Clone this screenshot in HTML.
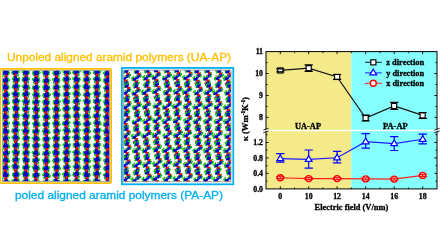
<!DOCTYPE html>
<html lang="en"><head><meta charset="utf-8"><title>Aramid polymers thermal conductivity</title>
<style>html,body{margin:0;padding:0;background:#fff}body{width:448px;height:252px;overflow:hidden}svg{display:block;filter:blur(0.3px)}</style>
</head><body>
<svg width="448" height="252" viewBox="0 0 448 252">
<defs><filter id="bl" x="-5%" y="-5%" width="110%" height="110%"><feGaussianBlur stdDeviation="0.35"/></filter></defs>
<rect width="448" height="252" fill="#fff"/>
<text x="7" y="60.7" font-family="'Liberation Sans', sans-serif" font-size="11" fill="#ffc000" stroke="#ffc000" stroke-width="0.3" textLength="224" lengthAdjust="spacingAndGlyphs">Unpoled aligned aramid polymers (UA-AP)</text>
<text x="15" y="199.1" font-family="'Liberation Sans', sans-serif" font-size="11" fill="#00b0f0" stroke="#00b0f0" stroke-width="0.3" textLength="208" lengthAdjust="spacingAndGlyphs">poled aligned aramid polymers (PA-AP)</text>
<defs><g id="L0"><g fill="#00b000"><circle cx="-2.9" cy="-0.7" r="1.4"/><circle cx="-2.4" cy="-1.8" r="1.1"/><circle cx="-2.4" cy="1.8" r="0.9"/><circle cx="2.5" cy="0.3" r="1.4"/><circle cx="2.5" cy="-1.3" r="1.1"/><circle cx="2.2" cy="1.7" r="0.9"/><circle cx="-1.6" cy="3.1" r="0.9"/><circle cx="1.9" cy="4.2" r="0.8"/></g><g fill="#1ee61e"><circle cx="-3.4" cy="-0.3" r="0.8"/><circle cx="-3" cy="-1.7" r="0.6"/><circle cx="3.2" cy="0.6" r="0.8"/><circle cx="2.7" cy="-1.8" r="0.6"/><circle cx="-2.2" cy="3.1" r="0.5"/></g><g fill="#0909dc"><circle cx="-0.1" cy="0.2" r="2.1"/><circle cx="-1.5" cy="0.4" r="1.5"/><circle cx="1.4" cy="-0.5" r="1.5"/><circle cx="0.5" cy="1.5" r="1.5"/><circle cx="-0.8" cy="-1.9" r="1.5"/><circle cx="0.3" cy="3.7" r="1.4"/></g><g fill="#000090"><circle cx="0.8" cy="1" r="0.9"/><circle cx="-1.3" cy="-0.7" r="0.8"/><circle cx="0.5" cy="-1.8" r="0.6"/><circle cx="-0.5" cy="3.9" r="0.6"/></g><g fill="#ff0000"><circle cx="0.4" cy="2.9" r="1.2"/><circle cx="-0.2" cy="4.7" r="1.3"/></g><g fill="#c000c0"><circle cx="-0.7" cy="2" r="0.5"/><circle cx="0.9" cy="5.5" r="0.5"/></g></g><g id="L1"><g fill="#00b000"><circle cx="-3" cy="0.5" r="1.4"/><circle cx="-2.8" cy="-1.4" r="1.1"/><circle cx="-2.2" cy="1.9" r="0.9"/><circle cx="2.8" cy="-0.5" r="1.4"/><circle cx="2.7" cy="-1.2" r="1.1"/><circle cx="2.4" cy="2" r="0.9"/><circle cx="2.1" cy="3.3" r="0.9"/><circle cx="-1.8" cy="4.4" r="0.8"/></g><g fill="#1ee61e"><circle cx="-2.9" cy="0.2" r="0.8"/><circle cx="-2.6" cy="-1.6" r="0.6"/><circle cx="2.8" cy="-0.2" r="0.8"/><circle cx="2.8" cy="-1.4" r="0.6"/><circle cx="1.7" cy="3.3" r="0.5"/></g><g fill="#0909dc"><circle cx="-0.2" cy="-0.2" r="2.1"/><circle cx="-1.6" cy="-0.2" r="1.5"/><circle cx="1.1" cy="0.2" r="1.5"/><circle cx="-0.6" cy="2" r="1.5"/><circle cx="0.2" cy="-1.7" r="1.5"/><circle cx="-0.2" cy="3.9" r="1.4"/></g><g fill="#000090"><circle cx="-0.7" cy="1.1" r="0.9"/><circle cx="1.2" cy="-0.7" r="0.8"/><circle cx="-0.4" cy="-1.7" r="0.6"/><circle cx="0.6" cy="3.7" r="0.6"/></g><g fill="#ff0000"><circle cx="-0.5" cy="2.5" r="1.2"/><circle cx="0.1" cy="4.8" r="1.3"/></g><g fill="#c000c0"><circle cx="1.1" cy="2.1" r="0.5"/><circle cx="-1.2" cy="5.3" r="0.5"/></g></g><g id="L2"><g fill="#00b000"><circle cx="-2.9" cy="-0.5" r="1.4"/><circle cx="-2.2" cy="-1.4" r="1.1"/><circle cx="-2.4" cy="2" r="0.9"/><circle cx="3" cy="0.7" r="1.4"/><circle cx="2.4" cy="-1.6" r="1.1"/><circle cx="2.2" cy="2" r="0.9"/><circle cx="-2" cy="3.1" r="0.9"/><circle cx="1.4" cy="4.1" r="0.8"/></g><g fill="#1ee61e"><circle cx="-3" cy="-0.6" r="0.8"/><circle cx="-2.5" cy="-1.5" r="0.6"/><circle cx="2.8" cy="0" r="0.8"/><circle cx="2.5" cy="-1.9" r="0.6"/><circle cx="-2.2" cy="3.2" r="0.5"/></g><g fill="#0909dc"><circle cx="-0.3" cy="0.2" r="2.1"/><circle cx="-1.3" cy="0.2" r="1.5"/><circle cx="1.2" cy="-0.5" r="1.5"/><circle cx="0.4" cy="1.6" r="1.5"/><circle cx="-0.3" cy="-1.4" r="1.5"/><circle cx="0.2" cy="3.7" r="1.4"/></g><g fill="#000090"><circle cx="0.7" cy="0.7" r="0.9"/><circle cx="-1.4" cy="-0.7" r="0.8"/><circle cx="0.5" cy="-2.1" r="0.6"/><circle cx="-0.6" cy="4.2" r="0.6"/></g><g fill="#ff0000"><circle cx="0.4" cy="2.5" r="1.2"/><circle cx="-0.3" cy="4.5" r="1.3"/></g><g fill="#c000c0"><circle cx="-1" cy="2.5" r="0.5"/><circle cx="1.1" cy="5.4" r="0.5"/></g></g><g id="L3"><g fill="#00b000"><circle cx="-2.9" cy="0.4" r="1.4"/><circle cx="-2.7" cy="-1.3" r="1.1"/><circle cx="-2.4" cy="2.1" r="0.9"/><circle cx="3" cy="-0.3" r="1.4"/><circle cx="2.7" cy="-1.4" r="1.1"/><circle cx="2.2" cy="1.9" r="0.9"/><circle cx="1.8" cy="3.5" r="0.9"/><circle cx="-1.4" cy="4.3" r="0.8"/></g><g fill="#1ee61e"><circle cx="-3.2" cy="0.1" r="0.8"/><circle cx="-2.5" cy="-1.4" r="0.6"/><circle cx="3" cy="-0.6" r="0.8"/><circle cx="2.4" cy="-1.8" r="0.6"/><circle cx="2.3" cy="3.6" r="0.5"/></g><g fill="#0909dc"><circle cx="0.3" cy="-0.1" r="2.1"/><circle cx="-1.5" cy="-0.6" r="1.5"/><circle cx="1.2" cy="0.2" r="1.5"/><circle cx="-0.4" cy="2" r="1.5"/><circle cx="0.7" cy="-1.7" r="1.5"/><circle cx="-0.1" cy="3.9" r="1.4"/></g><g fill="#000090"><circle cx="-1.1" cy="1" r="0.9"/><circle cx="1.5" cy="-0.4" r="0.8"/><circle cx="-0.1" cy="-1.9" r="0.6"/><circle cx="0.1" cy="4.1" r="0.6"/></g><g fill="#ff0000"><circle cx="-0.5" cy="2.9" r="1.2"/><circle cx="0.6" cy="4.7" r="1.3"/></g><g fill="#c000c0"><circle cx="0.9" cy="2.5" r="0.5"/><circle cx="-0.8" cy="5.1" r="0.5"/></g></g><g id="L4"><g fill="#00b000"><circle cx="-3" cy="-0.7" r="1.4"/><circle cx="-2.3" cy="-1.3" r="1.1"/><circle cx="-2.6" cy="2.1" r="0.9"/><circle cx="2.6" cy="0.2" r="1.4"/><circle cx="2.8" cy="-1.4" r="1.1"/><circle cx="2.4" cy="2.2" r="0.9"/><circle cx="-2" cy="3.3" r="0.9"/><circle cx="1.5" cy="4.4" r="0.8"/></g><g fill="#1ee61e"><circle cx="-2.8" cy="-0.2" r="0.8"/><circle cx="-2.8" cy="-1.7" r="0.6"/><circle cx="3.1" cy="0.5" r="0.8"/><circle cx="2.9" cy="-1.9" r="0.6"/><circle cx="-2.1" cy="3.3" r="0.5"/></g><g fill="#0909dc"><circle cx="-0.2" cy="0.2" r="2.1"/><circle cx="-1.4" cy="0.4" r="1.5"/><circle cx="1.4" cy="-0.2" r="1.5"/><circle cx="0.5" cy="2.1" r="1.5"/><circle cx="-0.5" cy="-1.7" r="1.5"/><circle cx="0.2" cy="3.4" r="1.4"/></g><g fill="#000090"><circle cx="0.9" cy="0.7" r="0.9"/><circle cx="-1.6" cy="-0.4" r="0.8"/><circle cx="0.1" cy="-1.9" r="0.6"/><circle cx="-0.2" cy="3.9" r="0.6"/></g><g fill="#ff0000"><circle cx="0.2" cy="2.7" r="1.2"/><circle cx="-0.3" cy="5" r="1.3"/></g><g fill="#c000c0"><circle cx="-1.2" cy="2.2" r="0.5"/><circle cx="0.7" cy="5.2" r="0.5"/></g></g><g id="L5"><g fill="#00b000"><circle cx="-2.6" cy="0.5" r="1.4"/><circle cx="-2.5" cy="-1.3" r="1.1"/><circle cx="-2.2" cy="1.9" r="0.9"/><circle cx="2.8" cy="-0.5" r="1.4"/><circle cx="2.5" cy="-1.2" r="1.1"/><circle cx="2.5" cy="2.1" r="0.9"/><circle cx="2.1" cy="3.2" r="0.9"/><circle cx="-1.9" cy="4.3" r="0.8"/></g><g fill="#1ee61e"><circle cx="-3" cy="0.3" r="0.8"/><circle cx="-2.7" cy="-1.6" r="0.6"/><circle cx="3.4" cy="-0.4" r="0.8"/><circle cx="2.7" cy="-1.4" r="0.6"/><circle cx="1.7" cy="3.1" r="0.5"/></g><g fill="#0909dc"><circle cx="-0.3" cy="0.1" r="2.1"/><circle cx="-1.2" cy="-0.2" r="1.5"/><circle cx="1.1" cy="0.5" r="1.5"/><circle cx="-0.4" cy="1.6" r="1.5"/><circle cx="0.7" cy="-1.4" r="1.5"/><circle cx="-0.4" cy="4" r="1.4"/></g><g fill="#000090"><circle cx="-1" cy="0.9" r="0.9"/><circle cx="1.6" cy="-0.4" r="0.8"/><circle cx="-0.5" cy="-1.9" r="0.6"/><circle cx="0.3" cy="3.8" r="0.6"/></g><g fill="#ff0000"><circle cx="-0.5" cy="2.6" r="1.2"/><circle cx="0.4" cy="4.5" r="1.3"/></g><g fill="#c000c0"><circle cx="1" cy="2.2" r="0.5"/><circle cx="-1.2" cy="5.2" r="0.5"/></g></g><g id="R0"><g fill="#00b000"><circle cx="-3" cy="0.5" r="1.3"/><circle cx="-2.6" cy="2.4" r="1.1"/><circle cx="-2" cy="-1.1" r="0.8"/><circle cx="0.7" cy="-1.1" r="0.9"/><circle cx="3" cy="4.8" r="1.2"/><circle cx="2.5" cy="6.3" r="1"/><circle cx="2.5" cy="2.4" r="0.8"/><circle cx="-0.6" cy="4.3" r="0.9"/></g><g fill="#1ee61e"><circle cx="-3.2" cy="0.3" r="0.7"/><circle cx="-2.8" cy="2.1" r="0.6"/><circle cx="-2.2" cy="-1.4" r="0.4"/><circle cx="0.5" cy="-1.4" r="0.5"/><circle cx="2.8" cy="4.5" r="0.7"/><circle cx="2.3" cy="6.1" r="0.5"/><circle cx="2.3" cy="2.2" r="0.4"/><circle cx="-0.8" cy="4.1" r="0.5"/></g><g fill="#0909dc"><circle cx="-0.7" cy="1" r="1.5"/><circle cx="-1.7" cy="1.7" r="1.1"/><circle cx="0.4" cy="0.4" r="1.1"/><circle cx="-0.2" cy="2.2" r="1.1"/><circle cx="1.3" cy="4.2" r="1.2"/><circle cx="1" cy="5.6" r="1.3"/><circle cx="0.2" cy="6.2" r="1.3"/><circle cx="-0.9" cy="6.7" r="1.2"/></g><g fill="#000090"><circle cx="-0.2" cy="1.7" r="0.8"/><circle cx="-2" cy="0.6" r="0.6"/></g><g fill="#ff0000"><ellipse cx="0.8" cy="3.4" rx="1.6" ry="1.1"/><circle cx="-1.6" cy="5.7" r="0.7"/></g><g fill="#c000c0"><circle cx="0.2" cy="4" r="0.5"/><circle cx="-1.5" cy="7.2" r="0.5"/></g></g><g id="R1"><g fill="#00b000"><circle cx="-3.2" cy="0.4" r="1.3"/><circle cx="-2.8" cy="2.4" r="1.1"/><circle cx="-2.2" cy="-1.2" r="0.8"/><circle cx="0.5" cy="-1.1" r="0.9"/><circle cx="3" cy="4.7" r="1.2"/><circle cx="2.2" cy="6.4" r="1"/><circle cx="2.4" cy="2.5" r="0.8"/><circle cx="-0.3" cy="4.7" r="0.9"/></g><g fill="#1ee61e"><circle cx="-3.4" cy="0.2" r="0.7"/><circle cx="-3" cy="2.1" r="0.6"/><circle cx="-2.4" cy="-1.5" r="0.4"/><circle cx="0.3" cy="-1.4" r="0.5"/><circle cx="2.8" cy="4.4" r="0.7"/><circle cx="2" cy="6.2" r="0.5"/><circle cx="2.2" cy="2.3" r="0.4"/><circle cx="-0.5" cy="4.4" r="0.5"/></g><g fill="#0909dc"><circle cx="-0.5" cy="0.9" r="1.5"/><circle cx="-1.5" cy="1.6" r="1.1"/><circle cx="0.7" cy="0.4" r="1.1"/><circle cx="-0" cy="2" r="1.1"/><circle cx="1.3" cy="4.3" r="1.2"/><circle cx="0.6" cy="5.3" r="1.3"/><circle cx="0.3" cy="6.3" r="1.3"/><circle cx="-1" cy="6.8" r="1.2"/></g><g fill="#000090"><circle cx="0.2" cy="1.4" r="0.8"/><circle cx="-1.3" cy="0.6" r="0.6"/></g><g fill="#ff0000"><ellipse cx="0.7" cy="3.3" rx="1.6" ry="1.1"/><circle cx="-1.8" cy="5.7" r="0.7"/></g><g fill="#c000c0"><circle cx="0.6" cy="4" r="0.5"/><circle cx="-1.2" cy="7.2" r="0.5"/></g></g><g id="R2"><g fill="#00b000"><circle cx="-2.8" cy="0.4" r="1.3"/><circle cx="-2.6" cy="2.1" r="1.1"/><circle cx="-2.3" cy="-0.9" r="0.8"/><circle cx="0.5" cy="-0.9" r="0.9"/><circle cx="2.6" cy="4.7" r="1.2"/><circle cx="2.4" cy="6.1" r="1"/><circle cx="2.4" cy="2.7" r="0.8"/><circle cx="-0.8" cy="4.4" r="0.9"/></g><g fill="#1ee61e"><circle cx="-3" cy="0.1" r="0.7"/><circle cx="-2.8" cy="1.8" r="0.6"/><circle cx="-2.5" cy="-1.2" r="0.4"/><circle cx="0.3" cy="-1.1" r="0.5"/><circle cx="2.4" cy="4.4" r="0.7"/><circle cx="2.2" cy="5.8" r="0.5"/><circle cx="2.2" cy="2.5" r="0.4"/><circle cx="-1" cy="4.2" r="0.5"/></g><g fill="#0909dc"><circle cx="-0.9" cy="1.3" r="1.5"/><circle cx="-2.2" cy="1.9" r="1.1"/><circle cx="0.3" cy="0.5" r="1.1"/><circle cx="-0.3" cy="2.3" r="1.1"/><circle cx="1.4" cy="4.4" r="1.2"/><circle cx="0.8" cy="5.5" r="1.3"/><circle cx="-0" cy="6.1" r="1.3"/><circle cx="-0.6" cy="7" r="1.2"/></g><g fill="#000090"><circle cx="-0.7" cy="1.8" r="0.8"/><circle cx="-2.1" cy="1.1" r="0.6"/></g><g fill="#ff0000"><ellipse cx="0.9" cy="3.2" rx="1.6" ry="1.1"/><circle cx="-1.8" cy="5.8" r="0.7"/></g><g fill="#c000c0"><circle cx="0.5" cy="4.5" r="0.5"/><circle cx="-1.4" cy="7.5" r="0.5"/></g></g><g id="R3"><g fill="#00b000"><circle cx="-3" cy="0.4" r="1.3"/><circle cx="-2.7" cy="2.6" r="1.1"/><circle cx="-2.3" cy="-1.2" r="0.8"/><circle cx="0.8" cy="-0.8" r="0.9"/><circle cx="2.8" cy="4.6" r="1.2"/><circle cx="2.5" cy="6.4" r="1"/><circle cx="2.5" cy="2.7" r="0.8"/><circle cx="-0.3" cy="4.8" r="0.9"/></g><g fill="#1ee61e"><circle cx="-3.2" cy="0.2" r="0.7"/><circle cx="-2.9" cy="2.3" r="0.6"/><circle cx="-2.5" cy="-1.4" r="0.4"/><circle cx="0.6" cy="-1" r="0.5"/><circle cx="2.6" cy="4.4" r="0.7"/><circle cx="2.3" cy="6.2" r="0.5"/><circle cx="2.3" cy="2.5" r="0.4"/><circle cx="-0.5" cy="4.6" r="0.5"/></g><g fill="#0909dc"><circle cx="-0.7" cy="1.2" r="1.5"/><circle cx="-1.7" cy="1.8" r="1.1"/><circle cx="0.6" cy="0.4" r="1.1"/><circle cx="-0.2" cy="2.3" r="1.1"/><circle cx="1.1" cy="4.6" r="1.2"/><circle cx="1" cy="5.5" r="1.3"/><circle cx="0.2" cy="6.2" r="1.3"/><circle cx="-0.9" cy="6.7" r="1.2"/></g><g fill="#000090"><circle cx="-0.2" cy="1.4" r="0.8"/><circle cx="-1.9" cy="0.8" r="0.6"/></g><g fill="#ff0000"><ellipse cx="1" cy="3" rx="1.6" ry="1.1"/><circle cx="-1.9" cy="6.2" r="0.7"/></g><g fill="#c000c0"><circle cx="0.5" cy="4.5" r="0.5"/><circle cx="-1.5" cy="7.3" r="0.5"/></g></g><g id="R4"><g fill="#00b000"><circle cx="-3.1" cy="0" r="1.3"/><circle cx="-2.7" cy="2.4" r="1.1"/><circle cx="-2.2" cy="-1.4" r="0.8"/><circle cx="0.9" cy="-0.9" r="0.9"/><circle cx="2.7" cy="4.7" r="1.2"/><circle cx="2.2" cy="6.3" r="1"/><circle cx="2.4" cy="2.6" r="0.8"/><circle cx="-0.3" cy="4.8" r="0.9"/></g><g fill="#1ee61e"><circle cx="-3.3" cy="-0.2" r="0.7"/><circle cx="-2.9" cy="2.2" r="0.6"/><circle cx="-2.4" cy="-1.6" r="0.4"/><circle cx="0.7" cy="-1.2" r="0.5"/><circle cx="2.5" cy="4.5" r="0.7"/><circle cx="2" cy="6" r="0.5"/><circle cx="2.2" cy="2.3" r="0.4"/><circle cx="-0.5" cy="4.6" r="0.5"/></g><g fill="#0909dc"><circle cx="-0.7" cy="1.2" r="1.5"/><circle cx="-1.7" cy="1.9" r="1.1"/><circle cx="0.4" cy="0.4" r="1.1"/><circle cx="-0" cy="2.4" r="1.1"/><circle cx="1.3" cy="4.4" r="1.2"/><circle cx="0.8" cy="5.5" r="1.3"/><circle cx="-0.1" cy="6.3" r="1.3"/><circle cx="-1" cy="6.9" r="1.2"/></g><g fill="#000090"><circle cx="-0.5" cy="1.8" r="0.8"/><circle cx="-1.5" cy="1.1" r="0.6"/></g><g fill="#ff0000"><ellipse cx="1.1" cy="3.1" rx="1.6" ry="1.1"/><circle cx="-1.6" cy="5.8" r="0.7"/></g><g fill="#c000c0"><circle cx="0.5" cy="4.2" r="0.5"/><circle cx="-1.1" cy="7.5" r="0.5"/></g></g><g id="R5"><g fill="#00b000"><circle cx="-3.1" cy="0.5" r="1.3"/><circle cx="-2.9" cy="2.1" r="1.1"/><circle cx="-2" cy="-1.5" r="0.8"/><circle cx="0.9" cy="-1.2" r="0.9"/><circle cx="2.5" cy="4.2" r="1.2"/><circle cx="2.4" cy="6.2" r="1"/><circle cx="2.7" cy="2.7" r="0.8"/><circle cx="-0.3" cy="4.9" r="0.9"/></g><g fill="#1ee61e"><circle cx="-3.3" cy="0.2" r="0.7"/><circle cx="-3.1" cy="1.8" r="0.6"/><circle cx="-2.2" cy="-1.7" r="0.4"/><circle cx="0.7" cy="-1.4" r="0.5"/><circle cx="2.3" cy="4" r="0.7"/><circle cx="2.2" cy="5.9" r="0.5"/><circle cx="2.5" cy="2.4" r="0.4"/><circle cx="-0.5" cy="4.6" r="0.5"/></g><g fill="#0909dc"><circle cx="-0.5" cy="0.9" r="1.5"/><circle cx="-1.5" cy="1.6" r="1.1"/><circle cx="0.5" cy="0.2" r="1.1"/><circle cx="0.4" cy="2.3" r="1.1"/><circle cx="1.1" cy="4.4" r="1.2"/><circle cx="0.9" cy="5.4" r="1.3"/><circle cx="0" cy="6.3" r="1.3"/><circle cx="-0.6" cy="6.9" r="1.2"/></g><g fill="#000090"><circle cx="0.2" cy="1.7" r="0.8"/><circle cx="-1.6" cy="0.4" r="0.6"/></g><g fill="#ff0000"><ellipse cx="1" cy="3.1" rx="1.6" ry="1.1"/><circle cx="-1.9" cy="5.7" r="0.7"/></g><g fill="#c000c0"><circle cx="0.6" cy="3.9" r="0.5"/><circle cx="-1.1" cy="7.2" r="0.5"/></g></g></defs>
<clipPath id="cl"><rect x="2.6" y="70.3" width="107" height="111.3"/></clipPath><g clip-path="url(#cl)"><g filter="url(#bl)"><use href="#L5" x="5.9" y="65.5"/><use href="#L0" x="5.9" y="72.8"/><use href="#L3" x="5.6" y="80.5"/><use href="#L0" x="5.6" y="87.4"/><use href="#L3" x="5.9" y="95"/><use href="#L2" x="5.7" y="102.2"/><use href="#L5" x="5.7" y="109.6"/><use href="#L0" x="5.6" y="116.9"/><use href="#L1" x="5.7" y="123.9"/><use href="#L0" x="5.8" y="131.5"/><use href="#L1" x="5.8" y="138.6"/><use href="#L2" x="5.9" y="146"/><use href="#L3" x="5.9" y="153.3"/><use href="#L2" x="5.8" y="160.4"/><use href="#L5" x="5.6" y="167.7"/><use href="#L0" x="5.6" y="175"/><use href="#L3" x="5.8" y="182.5"/><use href="#L0" x="5.6" y="189.8"/><use href="#L2" x="16" y="65.2"/><use href="#L1" x="15.6" y="72.4"/><use href="#L4" x="16.1" y="79.6"/><use href="#L1" x="16.1" y="86.7"/><use href="#L4" x="15.8" y="94.2"/><use href="#L3" x="16.1" y="101.4"/><use href="#L0" x="16.1" y="108.7"/><use href="#L5" x="16" y="115.9"/><use href="#L2" x="16.1" y="123.6"/><use href="#L1" x="15.6" y="130.8"/><use href="#L2" x="15.8" y="137.8"/><use href="#L5" x="16" y="145.5"/><use href="#L4" x="16.1" y="152.6"/><use href="#L5" x="15.7" y="159.9"/><use href="#L0" x="15.7" y="166.9"/><use href="#L3" x="16.1" y="174.7"/><use href="#L4" x="15.8" y="181.6"/><use href="#L3" x="15.7" y="188.9"/><use href="#L1" x="26" y="65.2"/><use href="#L0" x="25.9" y="72.7"/><use href="#L1" x="25.9" y="79.6"/><use href="#L2" x="26" y="87.1"/><use href="#L3" x="25.9" y="94.3"/><use href="#L4" x="26.2" y="101.9"/><use href="#L1" x="26.1" y="109.1"/><use href="#L4" x="25.9" y="116.2"/><use href="#L3" x="25.8" y="123.7"/><use href="#L4" x="25.8" y="131.1"/><use href="#L5" x="26.2" y="138.3"/><use href="#L4" x="26.1" y="145.5"/><use href="#L5" x="26.1" y="152.9"/><use href="#L0" x="26.2" y="160.2"/><use href="#L5" x="26.1" y="167.5"/><use href="#L0" x="25.8" y="174.5"/><use href="#L5" x="25.9" y="181.8"/><use href="#L2" x="26" y="189.4"/><use href="#L4" x="36" y="65.6"/><use href="#L3" x="36.3" y="73.1"/><use href="#L4" x="36.3" y="80.1"/><use href="#L5" x="35.9" y="87.7"/><use href="#L2" x="36.3" y="95.1"/><use href="#L1" x="36.3" y="102.1"/><use href="#L4" x="36.2" y="109.5"/><use href="#L3" x="35.9" y="117"/><use href="#L2" x="36.3" y="124.2"/><use href="#L5" x="36" y="131.5"/><use href="#L2" x="36" y="138.8"/><use href="#L3" x="36.2" y="145.8"/><use href="#L2" x="35.9" y="153.2"/><use href="#L5" x="35.9" y="160.5"/><use href="#L2" x="36" y="167.9"/><use href="#L3" x="36.1" y="175.3"/><use href="#L4" x="36" y="182.7"/><use href="#L3" x="35.9" y="189.8"/><use href="#L3" x="46.5" y="66"/><use href="#L0" x="46.1" y="73.1"/><use href="#L5" x="46.3" y="80.8"/><use href="#L0" x="46.4" y="88"/><use href="#L3" x="46.5" y="95.3"/><use href="#L0" x="46.3" y="102.7"/><use href="#L3" x="46.1" y="109.6"/><use href="#L2" x="46.4" y="117.1"/><use href="#L5" x="46.1" y="124.3"/><use href="#L2" x="46.1" y="131.6"/><use href="#L3" x="46.4" y="139.2"/><use href="#L0" x="46.5" y="146.2"/><use href="#L1" x="46.5" y="153.5"/><use href="#L2" x="46.1" y="160.9"/><use href="#L5" x="46.1" y="168.4"/><use href="#L2" x="46.5" y="175.4"/><use href="#L1" x="46.5" y="182.7"/><use href="#L0" x="46.2" y="190"/><use href="#L0" x="56.6" y="65.7"/><use href="#L3" x="56.6" y="73"/><use href="#L4" x="56.4" y="80.3"/><use href="#L5" x="56.5" y="87.5"/><use href="#L0" x="56.7" y="94.7"/><use href="#L5" x="56.6" y="102.1"/><use href="#L2" x="56.4" y="109.5"/><use href="#L5" x="56.3" y="116.6"/><use href="#L2" x="56.3" y="123.8"/><use href="#L5" x="56.7" y="131.1"/><use href="#L4" x="56.3" y="138.5"/><use href="#L5" x="56.4" y="145.7"/><use href="#L0" x="56.2" y="153.1"/><use href="#L3" x="56.5" y="160.4"/><use href="#L2" x="56.7" y="167.7"/><use href="#L1" x="56.5" y="174.9"/><use href="#L0" x="56.4" y="182.1"/><use href="#L1" x="56.4" y="189.8"/><use href="#L1" x="66.7" y="65"/><use href="#L2" x="66.7" y="72.2"/><use href="#L3" x="66.5" y="79.4"/><use href="#L2" x="66.6" y="86.9"/><use href="#L5" x="66.6" y="94.3"/><use href="#L0" x="66.4" y="101.7"/><use href="#L3" x="66.5" y="108.8"/><use href="#L2" x="66.8" y="116.3"/><use href="#L1" x="66.4" y="123.4"/><use href="#L2" x="66.8" y="130.7"/><use href="#L1" x="66.5" y="138.2"/><use href="#L4" x="66.8" y="145.6"/><use href="#L1" x="66.7" y="152.5"/><use href="#L0" x="66.6" y="160"/><use href="#L5" x="66.7" y="167.4"/><use href="#L2" x="66.4" y="174.7"/><use href="#L1" x="66.7" y="181.7"/><use href="#L0" x="66.7" y="189"/><use href="#L2" x="76.8" y="64.9"/><use href="#L1" x="76.5" y="72.1"/><use href="#L4" x="76.6" y="79.4"/><use href="#L5" x="76.5" y="86.8"/><use href="#L2" x="76.6" y="94"/><use href="#L1" x="76.7" y="101.3"/><use href="#L0" x="76.5" y="108.7"/><use href="#L5" x="76.7" y="115.8"/><use href="#L2" x="76.9" y="123.4"/><use href="#L1" x="76.6" y="130.7"/><use href="#L2" x="76.6" y="137.7"/><use href="#L3" x="76.9" y="145.1"/><use href="#L2" x="76.6" y="152.7"/><use href="#L5" x="76.9" y="159.6"/><use href="#L2" x="77" y="167"/><use href="#L1" x="76.6" y="174.3"/><use href="#L2" x="76.6" y="181.8"/><use href="#L5" x="76.6" y="188.9"/><use href="#L5" x="86.7" y="65.4"/><use href="#L2" x="86.7" y="72.4"/><use href="#L5" x="86.7" y="79.7"/><use href="#L0" x="86.7" y="87.2"/><use href="#L5" x="87.1" y="94.7"/><use href="#L0" x="87.1" y="101.8"/><use href="#L1" x="87" y="109.2"/><use href="#L2" x="86.7" y="116.5"/><use href="#L3" x="87.1" y="124"/><use href="#L2" x="86.7" y="130.8"/><use href="#L3" x="86.7" y="138.3"/><use href="#L0" x="86.9" y="145.8"/><use href="#L3" x="86.8" y="153.1"/><use href="#L2" x="86.7" y="160.4"/><use href="#L1" x="86.8" y="167.8"/><use href="#L0" x="86.8" y="175"/><use href="#L3" x="86.7" y="182.1"/><use href="#L4" x="87" y="189.2"/><use href="#L0" x="97.2" y="64.5"/><use href="#L1" x="97.2" y="72.3"/><use href="#L2" x="97" y="79.3"/><use href="#L5" x="96.8" y="86.8"/><use href="#L4" x="97" y="93.8"/><use href="#L1" x="97.2" y="101.3"/><use href="#L4" x="97.3" y="108.3"/><use href="#L1" x="96.9" y="116"/><use href="#L2" x="97.3" y="123.1"/><use href="#L3" x="97.3" y="130.6"/><use href="#L0" x="97.3" y="137.6"/><use href="#L5" x="97" y="145.2"/><use href="#L0" x="97.1" y="152.3"/><use href="#L3" x="97" y="159.8"/><use href="#L4" x="96.8" y="166.8"/><use href="#L1" x="96.9" y="174"/><use href="#L0" x="97" y="181.6"/><use href="#L1" x="97.3" y="189"/><use href="#L3" x="107.3" y="66.1"/><use href="#L2" x="107.2" y="73.7"/><use href="#L3" x="107" y="80.7"/><use href="#L2" x="107.3" y="88.3"/><use href="#L5" x="107.2" y="95.6"/><use href="#L0" x="107.3" y="102.7"/><use href="#L3" x="107.2" y="110"/><use href="#L4" x="107.1" y="117.4"/><use href="#L1" x="107.1" y="124.5"/><use href="#L4" x="107" y="131.8"/><use href="#L3" x="107.4" y="139.3"/><use href="#L0" x="107.3" y="146.4"/><use href="#L3" x="107.4" y="153.7"/><use href="#L2" x="107.4" y="161"/><use href="#L3" x="107.4" y="168.3"/><use href="#L2" x="107.1" y="175.6"/><use href="#L5" x="107.4" y="183.1"/><use href="#L0" x="107.1" y="190.6"/></g></g>
<rect x="2.6" y="70.3" width="107" height="111.3" fill="none" stroke="#9a9a9a" stroke-width="0.8"/>
<rect x="0.3" y="68.9" width="110.8" height="114.2" rx="1.2" fill="none" stroke="#ffc000" stroke-width="1.8"/>
<clipPath id="cr"><rect x="123.6" y="70" width="107.4" height="111.8"/></clipPath><g clip-path="url(#cr)"><g filter="url(#bl)"><use href="#R0" x="127.6" y="55.8"/><use href="#R4" x="125.6" y="63"/><use href="#R1" x="127" y="70.3"/><use href="#R2" x="125" y="77.5"/><use href="#R4" x="127.5" y="84.8"/><use href="#R1" x="126.1" y="92"/><use href="#R5" x="127.9" y="99.3"/><use href="#R0" x="126" y="106.5"/><use href="#R5" x="126.9" y="113.8"/><use href="#R3" x="124.9" y="121"/><use href="#R5" x="127.1" y="128.3"/><use href="#R0" x="126.2" y="135.5"/><use href="#R4" x="127.9" y="142.8"/><use href="#R4" x="126" y="150"/><use href="#R2" x="127.4" y="157.3"/><use href="#R5" x="125" y="164.5"/><use href="#R0" x="127.2" y="171.8"/><use href="#R5" x="125.8" y="179"/><use href="#R0" x="128.2" y="186.3"/><use href="#R3" x="126" y="193.5"/><use href="#R2" x="138.2" y="56.2"/><use href="#R5" x="136.2" y="63.4"/><use href="#R2" x="138" y="70.7"/><use href="#R0" x="135.5" y="77.9"/><use href="#R4" x="137" y="85.2"/><use href="#R2" x="135.4" y="92.4"/><use href="#R0" x="137.7" y="99.7"/><use href="#R0" x="136.2" y="106.9"/><use href="#R0" x="138.1" y="114.2"/><use href="#R2" x="135.7" y="121.4"/><use href="#R1" x="137.3" y="128.7"/><use href="#R4" x="135.2" y="135.9"/><use href="#R4" x="137.6" y="143.2"/><use href="#R5" x="136.3" y="150.4"/><use href="#R3" x="138.2" y="157.7"/><use href="#R5" x="136.3" y="164.9"/><use href="#R1" x="137.2" y="172.2"/><use href="#R4" x="135.2" y="179.4"/><use href="#R5" x="137" y="186.7"/><use href="#R1" x="135.8" y="193.9"/><use href="#R3" x="147.6" y="55.5"/><use href="#R4" x="146.7" y="62.8"/><use href="#R1" x="148.2" y="70"/><use href="#R4" x="146.6" y="77.3"/><use href="#R3" x="147.4" y="84.5"/><use href="#R4" x="145.2" y="91.8"/><use href="#R0" x="147.1" y="99"/><use href="#R0" x="146.1" y="106.3"/><use href="#R0" x="148.3" y="113.5"/><use href="#R3" x="146.6" y="120.8"/><use href="#R4" x="148" y="128"/><use href="#R0" x="145.4" y="135.3"/><use href="#R0" x="147.3" y="142.5"/><use href="#R3" x="145.9" y="149.8"/><use href="#R3" x="147.9" y="157"/><use href="#R3" x="146.4" y="164.3"/><use href="#R2" x="148.3" y="171.5"/><use href="#R3" x="146" y="178.8"/><use href="#R0" x="147.4" y="186"/><use href="#R4" x="145.2" y="193.3"/><use href="#R0" x="158.9" y="54.8"/><use href="#R1" x="156.2" y="62.1"/><use href="#R2" x="157.4" y="69.3"/><use href="#R2" x="155.5" y="76.6"/><use href="#R3" x="157.4" y="83.8"/><use href="#R5" x="155.9" y="91.1"/><use href="#R4" x="158.5" y="98.3"/><use href="#R5" x="156.9" y="105.6"/><use href="#R4" x="158.1" y="112.8"/><use href="#R0" x="156.3" y="120.1"/><use href="#R3" x="157.4" y="127.3"/><use href="#R4" x="155.9" y="134.6"/><use href="#R1" x="157.6" y="141.8"/><use href="#R4" x="156.8" y="149.1"/><use href="#R4" x="158.7" y="156.3"/><use href="#R4" x="156.5" y="163.6"/><use href="#R1" x="158" y="170.8"/><use href="#R5" x="155.6" y="178.1"/><use href="#R2" x="157.5" y="185.3"/><use href="#R2" x="156.2" y="192.6"/><use href="#R1" x="169" y="55.6"/><use href="#R1" x="166.8" y="62.9"/><use href="#R1" x="167.9" y="70.1"/><use href="#R2" x="166" y="77.4"/><use href="#R3" x="168.2" y="84.6"/><use href="#R3" x="167.2" y="91.9"/><use href="#R5" x="168.6" y="99.1"/><use href="#R3" x="166" y="106.4"/><use href="#R0" x="167.7" y="113.6"/><use href="#R4" x="165.9" y="120.9"/><use href="#R2" x="168.7" y="128.1"/><use href="#R4" x="166.8" y="135.4"/><use href="#R2" x="168.4" y="142.6"/><use href="#R5" x="165.9" y="149.9"/><use href="#R0" x="167.9" y="157.1"/><use href="#R0" x="166.4" y="164.4"/><use href="#R4" x="168.5" y="171.6"/><use href="#R4" x="166.9" y="178.9"/><use href="#R1" x="168" y="186.1"/><use href="#R1" x="165.6" y="193.4"/><use href="#R4" x="178.6" y="55"/><use href="#R5" x="175.9" y="62.3"/><use href="#R0" x="177.8" y="69.5"/><use href="#R3" x="176.4" y="76.8"/><use href="#R2" x="178.9" y="84"/><use href="#R4" x="177.1" y="91.3"/><use href="#R5" x="178.3" y="98.5"/><use href="#R1" x="176.2" y="105.8"/><use href="#R3" x="177.7" y="113"/><use href="#R2" x="176.6" y="120.3"/><use href="#R1" x="178.9" y="127.5"/><use href="#R0" x="177.1" y="134.8"/><use href="#R0" x="178.3" y="142"/><use href="#R0" x="175.9" y="149.3"/><use href="#R5" x="178.2" y="156.5"/><use href="#R5" x="177" y="163.8"/><use href="#R4" x="179.3" y="171"/><use href="#R4" x="177" y="178.3"/><use href="#R2" x="178.2" y="185.5"/><use href="#R2" x="176.2" y="192.8"/><use href="#R3" x="188.9" y="55.2"/><use href="#R2" x="187.2" y="62.4"/><use href="#R5" x="189.1" y="69.7"/><use href="#R3" x="186.5" y="76.9"/><use href="#R3" x="188.2" y="84.2"/><use href="#R1" x="186.1" y="91.4"/><use href="#R2" x="188.2" y="98.7"/><use href="#R0" x="187" y="105.9"/><use href="#R2" x="188.9" y="113.2"/><use href="#R4" x="187.5" y="120.4"/><use href="#R2" x="188.3" y="127.7"/><use href="#R5" x="186.6" y="134.9"/><use href="#R1" x="187.9" y="142.2"/><use href="#R4" x="186.6" y="149.4"/><use href="#R0" x="188.6" y="156.7"/><use href="#R3" x="187.3" y="163.9"/><use href="#R5" x="189.2" y="171.2"/><use href="#R3" x="186.8" y="178.4"/><use href="#R0" x="188.6" y="185.7"/><use href="#R0" x="186" y="192.9"/><use href="#R1" x="198.5" y="55.8"/><use href="#R0" x="196.6" y="63.1"/><use href="#R2" x="198" y="70.3"/><use href="#R2" x="196.8" y="77.6"/><use href="#R4" x="199.3" y="84.8"/><use href="#R4" x="197.5" y="92.1"/><use href="#R0" x="199" y="99.3"/><use href="#R5" x="196.7" y="106.6"/><use href="#R4" x="198" y="113.8"/><use href="#R0" x="196.9" y="121.1"/><use href="#R1" x="199.1" y="128.3"/><use href="#R1" x="197.5" y="135.6"/><use href="#R4" x="199.3" y="142.8"/><use href="#R0" x="196.7" y="150.1"/><use href="#R3" x="198.2" y="157.3"/><use href="#R4" x="196.6" y="164.6"/><use href="#R2" x="199" y="171.8"/><use href="#R2" x="197.5" y="179.1"/><use href="#R2" x="199.2" y="186.3"/><use href="#R2" x="196.8" y="193.6"/><use href="#R4" x="209.7" y="55.7"/><use href="#R1" x="206.9" y="63"/><use href="#R5" x="208.4" y="70.2"/><use href="#R2" x="206.8" y="77.5"/><use href="#R0" x="209.6" y="84.7"/><use href="#R5" x="207.8" y="92"/><use href="#R0" x="209.2" y="99.2"/><use href="#R1" x="206.8" y="106.5"/><use href="#R3" x="208.7" y="113.7"/><use href="#R1" x="207.5" y="121"/><use href="#R0" x="209.2" y="128.2"/><use href="#R5" x="207.3" y="135.5"/><use href="#R1" x="208.6" y="142.7"/><use href="#R1" x="207.3" y="150"/><use href="#R0" x="209.6" y="157.2"/><use href="#R3" x="207.4" y="164.5"/><use href="#R1" x="208.7" y="171.7"/><use href="#R2" x="206.8" y="179"/><use href="#R0" x="208.9" y="186.2"/><use href="#R1" x="207.6" y="193.5"/><use href="#R3" x="218.7" y="55.7"/><use href="#R5" x="217.2" y="63"/><use href="#R1" x="219.7" y="70.2"/><use href="#R5" x="218.2" y="77.5"/><use href="#R3" x="219" y="84.7"/><use href="#R2" x="216.6" y="92"/><use href="#R4" x="218.9" y="99.2"/><use href="#R2" x="217.7" y="106.5"/><use href="#R5" x="219.6" y="113.7"/><use href="#R5" x="218" y="121"/><use href="#R5" x="219.1" y="128.2"/><use href="#R1" x="216.7" y="135.5"/><use href="#R1" x="218.6" y="142.7"/><use href="#R5" x="217.6" y="150"/><use href="#R5" x="220" y="157.2"/><use href="#R0" x="217.4" y="164.5"/><use href="#R2" x="218.6" y="171.7"/><use href="#R4" x="216.8" y="179"/><use href="#R1" x="218.7" y="186.2"/><use href="#R0" x="217.8" y="193.5"/><use href="#R2" x="229.7" y="55.9"/><use href="#R2" x="227.5" y="63.1"/><use href="#R2" x="228.6" y="70.4"/><use href="#R1" x="227.2" y="77.6"/><use href="#R0" x="229.9" y="84.9"/><use href="#R3" x="228.4" y="92.1"/><use href="#R4" x="229.7" y="99.4"/><use href="#R1" x="227.3" y="106.6"/><use href="#R5" x="228.8" y="113.9"/><use href="#R1" x="227.5" y="121.1"/><use href="#R5" x="229.9" y="128.4"/><use href="#R4" x="228.2" y="135.6"/><use href="#R4" x="229" y="142.9"/><use href="#R1" x="227.2" y="150.1"/><use href="#R2" x="229.2" y="157.4"/><use href="#R3" x="228.1" y="164.6"/><use href="#R0" x="230.2" y="171.9"/><use href="#R3" x="227.6" y="179.1"/><use href="#R3" x="228.9" y="186.4"/><use href="#R3" x="227.4" y="193.6"/></g></g>
<rect x="123.6" y="70" width="107.4" height="111.8" fill="none" stroke="#9a9a9a" stroke-width="0.8"/>
<rect x="121.9" y="67.9" width="111.4" height="116.4" fill="none" stroke="#00b0f0" stroke-width="1.8"/>
<rect x="266" y="51.6" width="85.3" height="137.3" fill="#f4ea8a"/><rect x="351.3" y="51.6" width="85.7" height="137.3" fill="#86ffff"/><rect x="266" y="51.6" width="171" height="137.3" fill="none" stroke="#000" stroke-width="1"/><path d="M280.3 188.9v-2.6M280.3 51.6v2.6M294.5 188.9v-1.5M294.5 51.6v1.5M308.7 188.9v-2.6M308.7 51.6v2.6M322.9 188.9v-1.5M322.9 51.6v1.5M337.1 188.9v-2.6M337.1 51.6v2.6M351.3 188.9v-1.5M351.3 51.6v1.5M365.7 188.9v-2.6M365.7 51.6v2.6M379.9 188.9v-1.5M379.9 51.6v1.5M394.2 188.9v-2.6M394.2 51.6v2.6M408.4 188.9v-1.5M408.4 51.6v1.5M422.7 188.9v-2.6M422.7 51.6v2.6M266 117.4h2.6M437 117.4h-2.6M266 95.5h2.6M437 95.5h-2.6M266 73.5h2.6M437 73.5h-2.6M266 106.5h1.5M437 106.5h-1.5M266 84.5h1.5M437 84.5h-1.5M266 62.6h1.5M437 62.6h-1.5M266 173.4h2.6M437 173.4h-2.6M266 157.9h2.6M437 157.9h-2.6M266 142.5h2.6M437 142.5h-2.6M266 181.2h1.5M437 181.2h-1.5M266 165.7h1.5M437 165.7h-1.5M266 150.2h1.5M437 150.2h-1.5M266 134.7h1.5M437 134.7h-1.5" stroke="#000" stroke-width="0.9" fill="none"/><rect x="265.4" y="129.8" width="172.2" height="1.4" fill="#fff"/><path d="M263.3 130.1l5.4 -1.9M263.3 132.8l5.4 -1.9M434.3 130.1l5.4 -1.9M434.3 132.8l5.4 -1.9" stroke="#000" stroke-width="0.8" fill="none"/><polyline points="280.3,70.4 308.7,68.2 337.1,76.9 365.7,118.1 394.2,105.9 422.7,115.4" fill="none" stroke="#111" stroke-width="1.15"/><path d="M280.3 68.9V71.9M308.7 64.9V71.4M337.1 74.5V79.3M365.7 115.2V121M394.2 102.3V109.5M422.7 112.5V118.3" stroke="#000" stroke-width="1.1" fill="none"/><rect x="277.8" y="67.9" width="5.1" height="5.1" fill="#fff" stroke="#000" stroke-width="1.15"/><rect x="306.1" y="65.6" width="5.1" height="5.1" fill="#fff" stroke="#000" stroke-width="1.15"/><rect x="334.6" y="74.4" width="5.1" height="5.1" fill="#fff" stroke="#000" stroke-width="1.15"/><rect x="363.1" y="115.5" width="5.1" height="5.1" fill="#fff" stroke="#000" stroke-width="1.15"/><rect x="391.6" y="103.4" width="5.1" height="5.1" fill="#fff" stroke="#000" stroke-width="1.15"/><rect x="420.1" y="112.9" width="5.1" height="5.1" fill="#fff" stroke="#000" stroke-width="1.15"/><path d="M276.2 68.9h8.2M276.2 71.9h8.2M304.6 64.9h8.2M304.6 71.4h8.2M333 74.5h8.2M333 79.3h8.2M361.6 115.2h8.2M361.6 121h8.2M390.1 102.3h8.2M390.1 109.5h8.2M418.6 112.5h8.2M418.6 118.3h8.2" stroke="#000" stroke-width="1.2" fill="none"/><polyline points="280.3,158.6 308.7,159.3 337.1,157.8 365.7,141.7 394.2,143.6 422.7,139.3" fill="none" stroke="#1c1cff" stroke-width="1.15"/><path d="M280.3 153.6V162.1M276.1 153.6h8.4M276.1 162.1h8.4M308.7 150V168.2M304.5 150h8.4M304.5 168.2h8.4M337.1 151.4V162.9M332.9 151.4h8.4M332.9 162.9h8.4M365.7 133.6V148.2M361.5 133.6h8.4M361.5 148.2h8.4M394.2 136.6V150.5M390 136.6h8.4M390 150.5h8.4M422.7 134.2V143.8M418.5 134.2h8.4M418.5 143.8h8.4" stroke="#0000ff" stroke-width="1.2" fill="none"/><path d="M280.3 155l3.4 5.7h-6.8z" fill="#fff" stroke="#0000ff" stroke-width="1.2"/><path d="M308.7 155.7l3.4 5.7h-6.8z" fill="#fff" stroke="#0000ff" stroke-width="1.2"/><path d="M337.1 154.2l3.4 5.7h-6.8z" fill="#fff" stroke="#0000ff" stroke-width="1.2"/><path d="M365.7 138.1l3.4 5.7h-6.8z" fill="#fff" stroke="#0000ff" stroke-width="1.2"/><path d="M394.2 140l3.4 5.7h-6.8z" fill="#fff" stroke="#0000ff" stroke-width="1.2"/><path d="M422.7 135.7l3.4 5.7h-6.8z" fill="#fff" stroke="#0000ff" stroke-width="1.2"/><polyline points="280.3,177.7 308.7,178.6 337.1,178.6 365.7,178.9 394.2,179.1 422.7,175.4" fill="none" stroke="#ff2020" stroke-width="1.15"/><circle cx="280.3" cy="177.7" r="3" fill="#ffd0d0" stroke="#ff0000" stroke-width="1.4"/><path d="M276 176.7h8.6M276 178.7h8.6M280.3 176.7v2" stroke="#ff0000" stroke-width="0.95" fill="none"/><circle cx="308.7" cy="178.6" r="3" fill="#ffd0d0" stroke="#ff0000" stroke-width="1.4"/><path d="M304.4 177.6h8.6M304.4 179.6h8.6M308.7 177.6v2" stroke="#ff0000" stroke-width="0.95" fill="none"/><circle cx="337.1" cy="178.6" r="3" fill="#ffd0d0" stroke="#ff0000" stroke-width="1.4"/><path d="M332.8 177.6h8.6M332.8 179.6h8.6M337.1 177.6v2" stroke="#ff0000" stroke-width="0.95" fill="none"/><circle cx="365.7" cy="178.9" r="3" fill="#ffd0d0" stroke="#ff0000" stroke-width="1.4"/><path d="M361.4 177.9h8.6M361.4 179.9h8.6M365.7 177.9v2" stroke="#ff0000" stroke-width="0.95" fill="none"/><circle cx="394.2" cy="179.1" r="3" fill="#ffd0d0" stroke="#ff0000" stroke-width="1.4"/><path d="M389.9 178.1h8.6M389.9 180.1h8.6M394.2 178.1v2" stroke="#ff0000" stroke-width="0.95" fill="none"/><circle cx="422.7" cy="175.4" r="3" fill="#ffd0d0" stroke="#ff0000" stroke-width="1.4"/><path d="M418.4 174.4h8.6M418.4 176.4h8.6M422.7 174.4v2" stroke="#ff0000" stroke-width="0.95" fill="none"/><path d="M365 62.3H381.8" stroke="#1a1a1a" stroke-width="1"/><path d="M365 72.9H381.8" stroke="#1c1cff" stroke-width="1"/><path d="M365 83.3H381.8" stroke="#ff2020" stroke-width="1"/><rect x="370.8" y="59.8" width="5.1" height="5.1" fill="#fff" stroke="#000" stroke-width="1.15"/><path d="M373.3 69.2l3.4 5.7h-6.8z" fill="#fff" stroke="#0000ff" stroke-width="1.2"/><circle cx="373.3" cy="83.3" r="3" fill="#fff" stroke="#ff0000" stroke-width="1.4"/><g font-family="'Liberation Serif', serif" font-weight="bold" fill="#000" stroke="#000" stroke-width="0.3"><text x="386.3" y="65.1" font-size="8.2" textLength="37.8" lengthAdjust="spacingAndGlyphs">z direction</text><text x="386.3" y="75.7" font-size="8.2" textLength="37.8" lengthAdjust="spacingAndGlyphs">y direction</text><text x="386.3" y="86.1" font-size="8.2" textLength="37.8" lengthAdjust="spacingAndGlyphs">x direction</text><text x="263" y="54.2" font-size="7.8" text-anchor="end">11</text><text x="263" y="76.1" font-size="7.8" text-anchor="end">10</text><text x="263" y="98.1" font-size="7.8" text-anchor="end">9</text><text x="263" y="120" font-size="7.8" text-anchor="end">8</text><text x="263" y="145.2" font-size="7.8" text-anchor="end">1.2</text><text x="263" y="160.6" font-size="7.8" text-anchor="end">0.8</text><text x="263" y="176.1" font-size="7.8" text-anchor="end">0.4</text><text x="263" y="191.6" font-size="7.8" text-anchor="end">0.0</text><text x="280.3" y="198.7" font-size="7.8" text-anchor="middle">0</text><text x="308.7" y="198.7" font-size="7.8" text-anchor="middle">10</text><text x="337.1" y="198.7" font-size="7.8" text-anchor="middle">12</text><text x="365.7" y="198.7" font-size="7.8" text-anchor="middle">14</text><text x="394.2" y="198.7" font-size="7.8" text-anchor="middle">16</text><text x="422.7" y="198.7" font-size="7.8" text-anchor="middle">18</text><text x="314.6" y="209.8" font-size="8.6" textLength="73.6" lengthAdjust="spacingAndGlyphs">Electric field (V/nm)</text><text x="295" y="129.1" font-size="8.3" textLength="26" lengthAdjust="spacingAndGlyphs">UA-AP</text><text x="382.9" y="129.1" font-size="8.3" textLength="24.8" lengthAdjust="spacingAndGlyphs">PA-AP</text><text transform="translate(248 141) rotate(-90)" font-size="8.6" textLength="44" lengthAdjust="spacingAndGlyphs">κ (Wm<tspan font-size="5.2" dy="-3">-1</tspan><tspan dy="3">K</tspan><tspan font-size="5.2" dy="-3">-1</tspan><tspan dy="3">)</tspan></text></g>
</svg>
</body></html>
